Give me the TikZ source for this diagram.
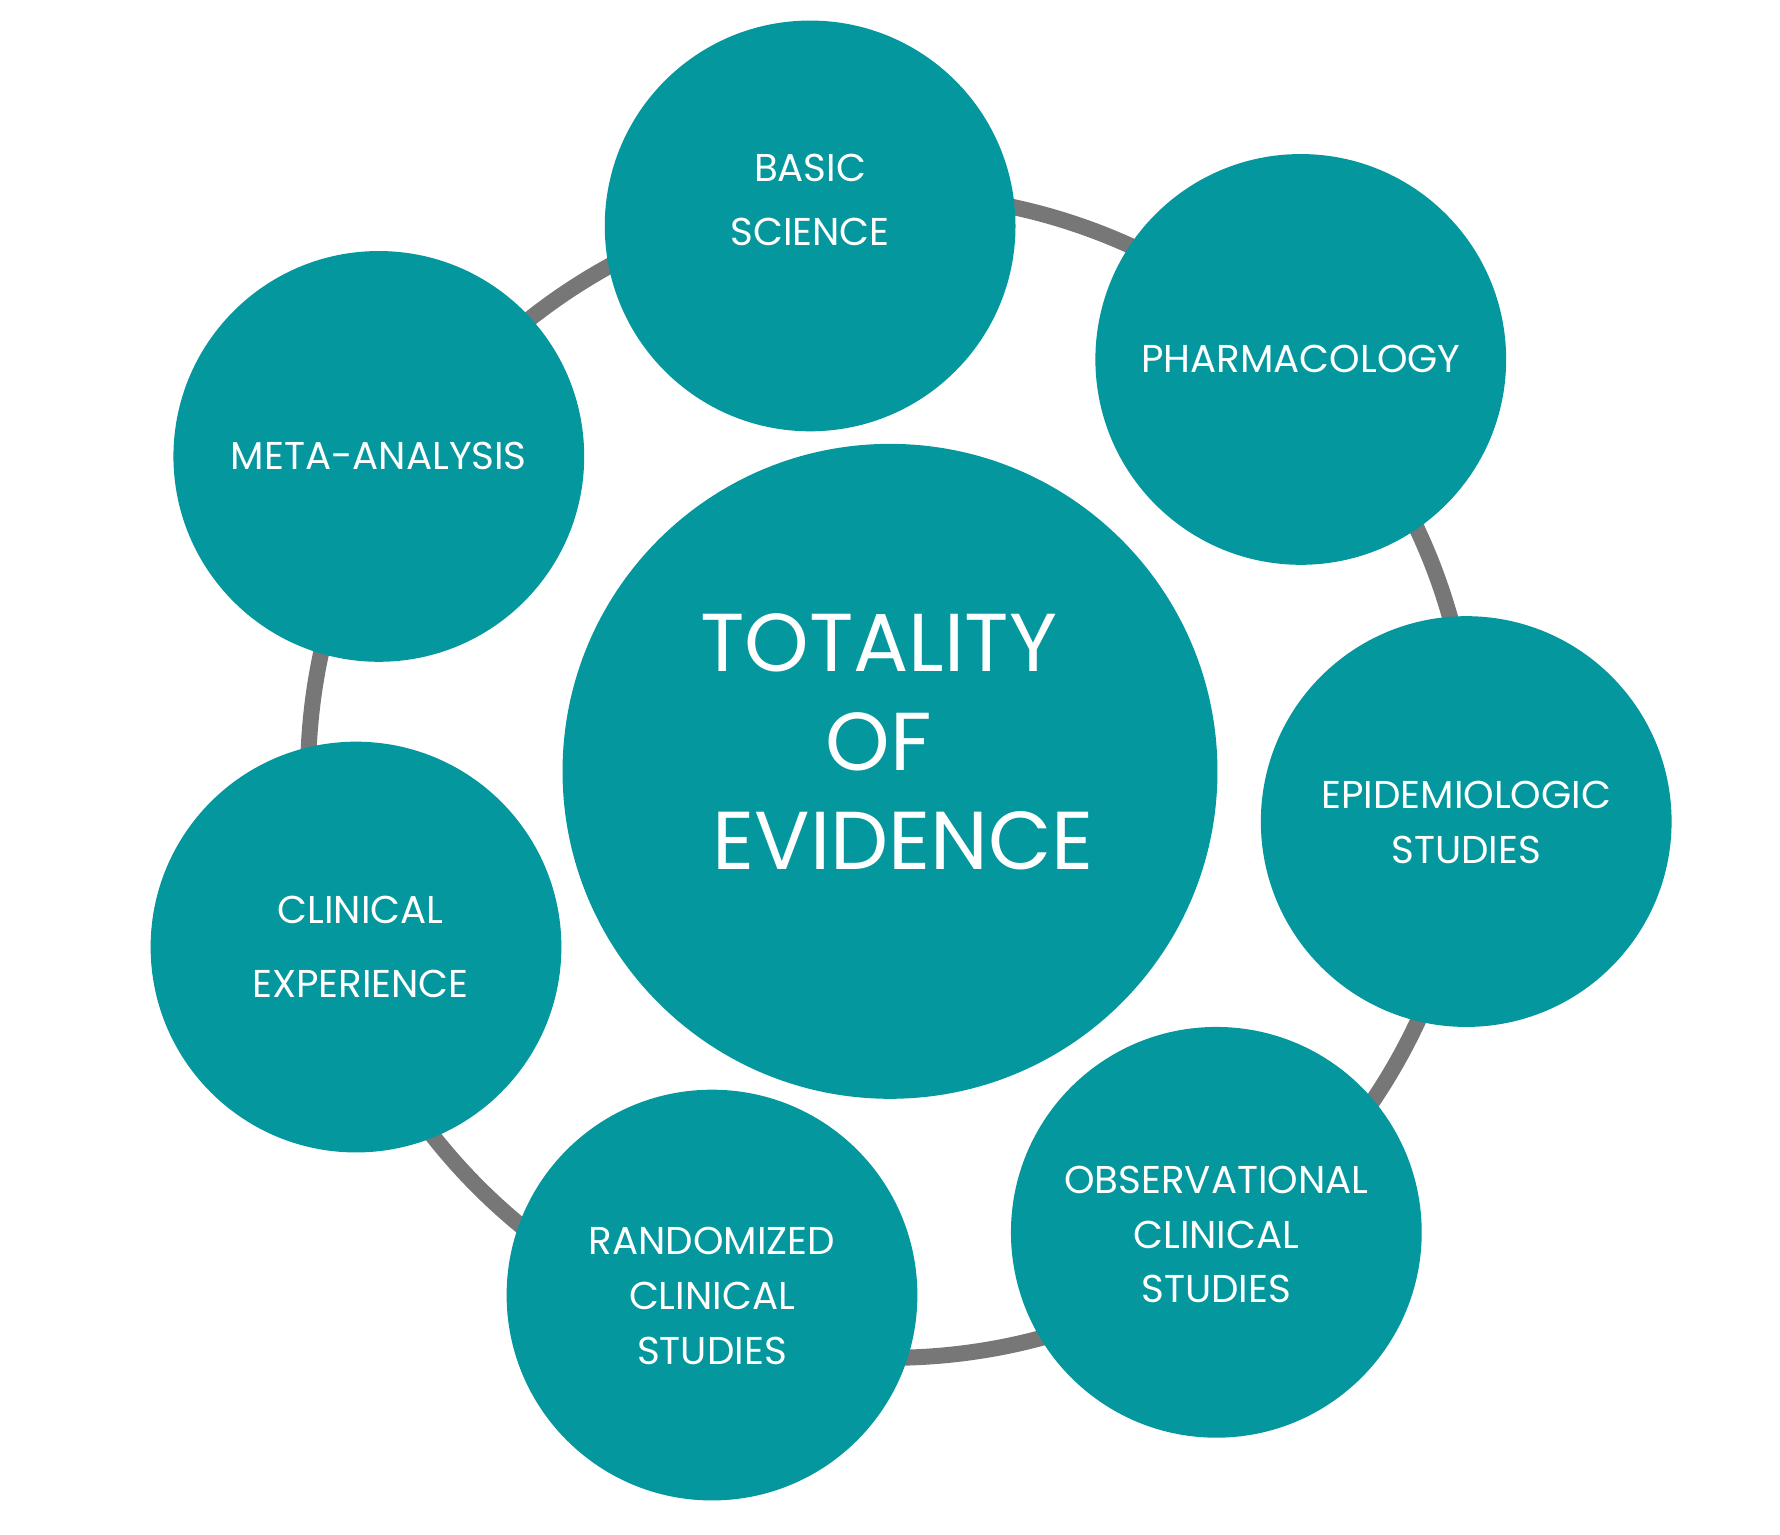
\documentclass[tikz,border=0pt]{standalone}
\usepackage{fontspec}
\setmainfont{Poppins}
\definecolor{teal1}{HTML}{05979E}
\definecolor{ring}{HTML}{777777}
\begin{document}
\begin{tikzpicture}[x=0.5pt,y=-0.5pt,
  sm/.style={circle,fill=teal1,minimum size=180pt,inner sep=0pt},
  lab/.style={text=white,align=center,font=\fontsize{17}{24}\selectfont},
  big/.style={text=white,align=center,font=\fontsize{36}{43.5}\selectfont}]
\useasboundingbox (0,0) rectangle (1560,1345);
\coordinate (c) at (780,680);
\draw[ring,line width=7pt] (c) circle[radius=510];
\node[circle,fill=teal1,minimum size=287pt,inner sep=0pt] (tot) at (780,676) {};
\node[sm] (bs) at (710,198) {};
\node[sm] (ph) at (1140,315) {};
\node[sm] (ma) at (332,400) {};
\node[sm] (ep) at (1285,720) {};
\node[sm] (ce) at (312,830) {};
\node[sm] (ob) at (1066,1080) {};
\node[sm] (ra) at (624,1135) {};
\node[lab,font=\fontsize{17}{28}\selectfont] at (710,175) {BASIC\\SCIENCE};
\node[lab] at (1140,315) {PHARMACOLOGY};
\node[lab] at (332,400) {META-ANALYSIS};
\node[lab] at (1285,721) {EPIDEMIOLOGIC\\STUDIES};
\node[lab,font=\fontsize{17}{32.5}\selectfont] at (316,830) {CLINICAL\\EXPERIENCE};
\node[lab] at (1066,1082) {OBSERVATIONAL\\CLINICAL\\STUDIES};
\node[lab] at (624,1136) {RANDOMIZED\\CLINICAL\\STUDIES};
\node[big] at (770,650) {TOTALITY\\OF\\\hspace*{0.6em}EVIDENCE};
\end{tikzpicture}
\end{document}
